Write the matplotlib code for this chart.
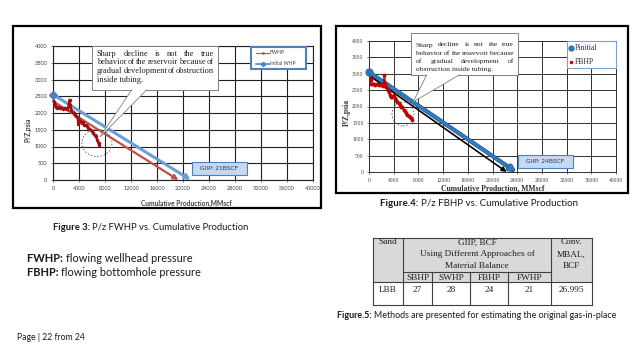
import matplotlib
matplotlib.use("Agg")
import matplotlib.pyplot as plt
from matplotlib.patches import Rectangle, Polygon, Ellipse
from matplotlib.lines import Line2D
import matplotlib.patheffects as pe

# ---------------- data ----------------
fwhp_x = [0, 150, 300, 450, 600, 800, 1000, 1300, 1600, 1900, 2200, 2400, 2550, 2650,
          2800, 3000, 3200, 3400, 3600, 3800, 3900, 4000, 4200, 4400, 4600, 4800, 5000,
          5200, 5400, 5600, 5800, 6000, 6200, 6400, 6600, 6800, 7000, 7100]
fwhp_y = [2400, 2330, 2250, 2180, 2150, 2170, 2140, 2160, 2130, 2150, 2120, 2200, 2390, 2250,
          2080, 2020, 2000, 1950, 1900, 1850, 1660, 1780, 1760, 1700, 1720, 1650, 1640,
          1600, 1560, 1520, 1500, 1450, 1400, 1330, 1300, 1200, 1100, 1050]
whp_line_x = [0, 21200]
whp_line_y = [2550, 0]
fwhp_line_x = [0, 19300]
fwhp_line_y = [2350, 0]

fbhp_x = [0, 100, 250, 400, 600, 800, 1000, 1300, 1600, 1900, 2200, 2400, 2500, 2600,
          2800, 3000, 3200, 3400, 3600, 3800, 4000, 4200, 4400, 4600, 4800, 5000, 5200,
          5400, 5600, 5800, 6000, 6200, 6400, 6600, 6800, 7000]
fbhp_y = [2950, 2880, 2800, 2700, 2680, 2700, 2660, 2680, 2650, 2670, 2640, 2750, 2950, 2700,
          2600, 2500, 2450, 2350, 2300, 2280, 2350, 2250, 2200, 2150, 2100, 2050, 2000,
          1980, 1900, 1850, 1800, 1750, 1700, 1680, 1640, 1600]
pinit_line_x = [0, 23800]
pinit_line_y = [3050, 0]
fbhp_line_x = [0, 22300]
fbhp_line_y = [2950, 0]

x_ticks = [0, 4000, 8000, 12000, 16000, 20000, 24000, 28000, 32000, 36000, 40000]
y_ticks = [0, 500, 1000, 1500, 2000, 2500, 3000, 3500, 4000]

table_methods = ["SBHP", "SWHP", "FBHP", "FWHP"]
table_values = ["27", "28", "24", "21"]
table_sand = "LBB"
table_conv = "26.995"

# ---------------- figure ----------------
W, H = 638, 359
fig = plt.figure(figsize=(W / 100, H / 100), dpi=100)
fig.patch.set_facecolor("white")

def fx(x):
    return x / W

def fy(y):
    return 1 - y / H

SANS = ["Lato", "DejaVu Sans"]
SERIF = ["Liberation Serif", "DejaVu Serif"]

def rect(x0, y0, x1, y1, **kw):
    r = Rectangle((fx(x0), fy(y1)), fx(x1) - fx(x0), fy(y0) - fy(y1),
                  transform=fig.transFigure, **kw)
    fig.add_artist(r)
    return r

# chart frames
rect(13, 26, 321, 208, fill=False, edgecolor="black", lw=1.6, zorder=10)
rect(336, 26, 628, 193, fill=False, edgecolor="black", lw=1.6, zorder=10)

def style_axes(ax, gridcol, gridlw, labfam, lsize):
    ax.set_xlim(0, 40000)
    ax.set_ylim(0, 4000)
    ax.set_xticks(x_ticks)
    ax.set_yticks(y_ticks)
    ax.grid(True, color=gridcol, lw=gridlw)
    ax.set_axisbelow(True)
    for s in ax.spines.values():
        s.set_color(gridcol)
        s.set_linewidth(gridlw)
    ax.tick_params(length=1.5, width=0.5, colors="#404040", labelsize=lsize, pad=2.5)
    for lab in ax.get_xticklabels() + ax.get_yticklabels():
        lab.set_family(labfam)

# ---------------- left chart ----------------
ax1 = fig.add_axes([fx(53), fy(180), fx(313) - fx(53), fy(46) - fy(180)])
style_axes(ax1, "#202020", 0.8, SANS, 4.0)

ax1.annotate("", xy=(whp_line_x[1], whp_line_y[1]), xytext=(whp_line_x[0], whp_line_y[0]),
             arrowprops=dict(arrowstyle="-|>", color="#6a9fd8", lw=2.2, shrinkA=0, shrinkB=0,
                             mutation_scale=7), zorder=3)
ax1.annotate("", xy=(fwhp_line_x[1], fwhp_line_y[1]), xytext=(fwhp_line_x[0], fwhp_line_y[0]),
             arrowprops=dict(arrowstyle="-|>", color="#c0504d", lw=1.6, shrinkA=0, shrinkB=0,
                             mutation_scale=7), zorder=3)
ax1.plot(whp_line_x[0], whp_line_y[0], marker="D", color="#4f81bd", ms=4, zorder=5, clip_on=False)
ax1.plot(fwhp_x, fwhp_y, color="#a01010", lw=1.8, marker=".", ms=3, zorder=4)

fig.text(fx(186), fy(203), "Cumulative Production,MMscf", ha="center", va="center",
         fontsize=4.8, fontweight="bold", color="#404040", family=SANS)
fig.text(fx(28), fy(130), "P/Z,psia", ha="center", va="center", rotation=90,
         fontsize=4.8, fontweight="bold", color="#404040", family=SANS)

# legend left
rect(251, 47, 306, 69, facecolor="white", edgecolor="#4f81bd", lw=1.5, zorder=6)
fig.add_artist(Line2D([fx(256), fx(269)], [fy(52.5), fy(52.5)], transform=fig.transFigure,
                      color="#c0504d", lw=0.8, zorder=7))
fig.add_artist(Line2D([fx(262.5)], [fy(52.5)], transform=fig.transFigure, color="#c0504d",
                      marker=".", ms=2, zorder=7))
fig.text(fx(270), fy(52.5), "FWHP", fontsize=3.6, va="center", color="#404040", family=SANS, zorder=7)
fig.add_artist(Line2D([fx(256), fx(269)], [fy(63.5), fy(63.5)], transform=fig.transFigure,
                      color="#4f81bd", lw=1.2, zorder=7))
fig.add_artist(Line2D([fx(262.5)], [fy(63.5)], transform=fig.transFigure, color="#4f81bd",
                      marker="D", ms=2.2, zorder=7))
fig.text(fx(270), fy(63.5), "Initial WHP", fontsize=3.6, va="center", color="#404040", family=SANS, zorder=7)

# ---------------- right chart ----------------
ax2 = fig.add_axes([fx(369), fy(172), fx(616) - fx(369), fy(41) - fy(172)])
style_axes(ax2, "#303030", 0.7, SERIF, 4.0)

ax2.annotate("", xy=(pinit_line_x[1], pinit_line_y[1]), xytext=(pinit_line_x[0], pinit_line_y[0]),
             arrowprops=dict(arrowstyle="-|>", color="#2e7bc4", lw=2.4, shrinkA=0, shrinkB=0,
                             mutation_scale=8,
                             path_effects=[pe.Stroke(linewidth=3.0, foreground="#1a3f6a"), pe.Normal()]),
             zorder=3)
ax2.annotate("", xy=(fbhp_line_x[1], fbhp_line_y[1]), xytext=(fbhp_line_x[0], fbhp_line_y[0]),
             arrowprops=dict(arrowstyle="-|>", color="black", lw=1.2, shrinkA=0, shrinkB=0,
                             mutation_scale=7), zorder=3)
ax2.plot(pinit_line_x[0], pinit_line_y[0], marker="o", color="#2e75b6", ms=5, zorder=5, clip_on=False)
ax2.plot(fbhp_x, fbhp_y, ls="none", marker="o", color="#c00000", ms=2.8, mew=0, zorder=4)
ax2.plot(fbhp_x, fbhp_y, color="#c00000", lw=1.4, alpha=0.85, zorder=4)

fig.text(fx(493), fy(188), "Cumulative Production, MMscf", ha="center", va="center",
         fontsize=5.5, fontweight="bold", color="#303030", family=SERIF)
fig.text(fx(347), fy(112), "P/Z,psia", ha="center", va="center", rotation=90,
         fontsize=5.5, fontweight="bold", color="#303030", family=SERIF)

# legend right
rect(567, 41, 616, 68, facecolor="white", edgecolor="#7f9fcf", lw=0.8, zorder=6)
fig.add_artist(Line2D([fx(571)], [fy(47.5)], transform=fig.transFigure, color="#2e75b6",
                      marker="o", ms=3.5, zorder=7))
fig.text(fx(575), fy(47.5), "Pinitial", fontsize=5.6, va="center", color="#303030", family=SERIF, zorder=7)
fig.add_artist(Line2D([fx(571)], [fy(61.5)], transform=fig.transFigure, color="#c00000",
                      marker="o", ms=1.5, zorder=7))
fig.text(fx(575), fy(61.5), "FBHP", fontsize=5.6, va="center", color="#303030", family=SERIF, zorder=7)

# ---------------- callouts ----------------
renderer = fig.canvas.get_renderer()

def justified(lines, x0, x1, ys, size):
    for i, line in enumerate(lines):
        words = line.split()
        if i == len(lines) - 1 or len(words) == 1:
            fig.text(fx(x0), fy(ys[i]), line, fontsize=size, family=SERIF, va="center",
                     color="#202020", zorder=9)
            continue
        texts = [fig.text(0, fy(ys[i]), w, fontsize=size, family=SERIF, va="center",
                          color="#202020", zorder=9) for w in words]
        widths = [t.get_window_extent(renderer).width for t in texts]
        gap = (x1 - x0 - sum(widths)) / (len(words) - 1)
        pos = x0
        for t, w in zip(texts, widths):
            t.set_x(fx(pos))
            pos += w + gap

def callout(box, base, tip, lines, ys, size):
    x0, y0, x1, y1 = box
    poly = Polygon([(fx(base[0]), fy(y1 - 0.5)), (fx(tip[0]), fy(tip[1])), (fx(base[1]), fy(y1 - 0.5))],
                   closed=False, transform=fig.transFigure, facecolor="white",
                   edgecolor="#808080", lw=0.6, zorder=7)
    fig.add_artist(poly)
    rect(x0, y0, x1, y1, facecolor="white", edgecolor="#808080", lw=0.7, zorder=6)
    justified(lines, x0 + 5, x1 - 4, ys, size)

callout((92, 46, 218, 90), (132, 147), (100, 137),
        ["Sharp decline is not the true", "behavior of the reservoir because of",
         "gradual development of obstruction", "inside tubing."],
        [54, 62.5, 71, 79.5], 6.0)
callout((411, 33, 518, 75), (427, 460), (413, 102),
        ["Sharp decline is not the true", "behavior of the reservoir because",
         "of gradual development of", "obstruction inside tubing."],
        [45, 53.3, 61.7, 70], 5.4)

# dashed circles
fig.add_artist(Ellipse((fx(97), fy(143)), 30 / W, 27 / H, transform=fig.transFigure,
                       fill=False, ls=(0, (2, 2)), edgecolor="#606060", lw=0.6, zorder=5))
fig.add_artist(Ellipse((fx(403), fy(114)), 22 / W, 24 / H, transform=fig.transFigure,
                       fill=False, ls=(0, (2, 2)), edgecolor="#606060", lw=0.6, zorder=3))

# GIIP boxes
rect(192, 162, 247, 175, facecolor="#c6d9f1", edgecolor="#4f81bd", lw=0.8, zorder=6)
fig.text(fx(219.5), fy(168.5), "GIIP: 21BSCF", ha="center", va="center", fontsize=4.6,
         color="#1f3864", family=SANS, zorder=7)
rect(518, 155, 573, 168, facecolor="#c6d9f1", edgecolor="#4f81bd", lw=0.8, zorder=6)
fig.text(fx(545.5), fy(161.5), "GIIP: 24BSCF", ha="center", va="center", fontsize=4.6,
         color="#1f3864", family=SANS, zorder=7)

# ---------------- captions and slide text ----------------
def mixed(x, y, bold, normal, size):
    t = fig.text(fx(x), fy(y), bold, fontsize=size, fontweight="bold", family=SANS,
                 va="center", color="#1a1a1a")
    w = t.get_window_extent(renderer).width
    fig.text(fx(x + w), fy(y), normal, fontsize=size, family=SANS, va="center", color="#1a1a1a")

mixed(53, 227, "Figure 3: ", "P/z FWHP vs. Cumulative Production", 6.85)
mixed(380, 203, "Figure.4: ", "P/z FBHP vs. Cumulative Production", 7.0)
mixed(27, 259, "FWHP: ", "flowing wellhead pressure", 7.9)
mixed(27, 273, "FBHP: ", "flowing bottomhole pressure", 7.9)
mixed(337, 316, "Figure.5: ", "Methods are presented for estimating the original gas-in-place", 6.4)
fig.text(fx(17), fy(338), "Page | 22 from 24", fontsize=6.2, family=SANS, va="center", color="#1a1a1a")

# ---------------- table ----------------
col_edges = [373, 403, 432, 470, 508, 551, 592]
row_edges = [238, 272, 282.3, 305]
TS = 6.7
tcol = "#202020"
rect(col_edges[0], row_edges[0], col_edges[-1], row_edges[2], facecolor="#d9d9d9",
     edgecolor="none", zorder=2)
rect(col_edges[0], row_edges[2], col_edges[-1], row_edges[3], facecolor="white",
     edgecolor="none", zorder=2)

def hline(x0, x1, y):
    fig.add_artist(Line2D([fx(x0), fx(x1)], [fy(y), fy(y)], transform=fig.transFigure,
                          color="#404040", lw=0.8, zorder=3))

def vline(x, y0, y1):
    fig.add_artist(Line2D([fx(x), fx(x)], [fy(y0), fy(y1)], transform=fig.transFigure,
                          color="#404040", lw=0.8, zorder=3))

hline(col_edges[0], col_edges[-1], row_edges[0])
hline(col_edges[1], col_edges[5], row_edges[1])
hline(col_edges[0], col_edges[-1], row_edges[2])
hline(col_edges[0], col_edges[-1], row_edges[3])
vline(col_edges[0], row_edges[0], row_edges[3])
vline(col_edges[1], row_edges[0], row_edges[3])
vline(col_edges[5], row_edges[0], row_edges[3])
vline(col_edges[6], row_edges[0], row_edges[3])
for c in col_edges[2:5]:
    vline(c, row_edges[1], row_edges[3])

def ttext(x, y, s, ha="center"):
    fig.text(fx(x), fy(y), s, ha=ha, va="center", fontsize=TS, family=SERIF, color=tcol, zorder=4)

ttext(388, 242.5, "Sand")
gx = (col_edges[1] + col_edges[5]) / 2
ttext(gx, 242.5, "GIIP, BCF")
ttext(gx, 254.5, "Using Different Approaches of")
ttext(gx, 266, "Material Balance")
cx = (col_edges[5] + col_edges[6]) / 2
ttext(cx, 242.5, "Conv.")
ttext(cx, 254.5, "MBAL,")
ttext(cx, 266, "BCF")
for i, m in enumerate(table_methods):
    mx = (col_edges[1 + i] + col_edges[2 + i]) / 2
    ttext(mx, 277.5, m)
    ttext(mx, 289.5, table_values[i])
ttext(388, 289.5, table_sand)
ttext(cx, 289.5, table_conv)

fig.savefig("out.png", dpi=100, facecolor="white")
